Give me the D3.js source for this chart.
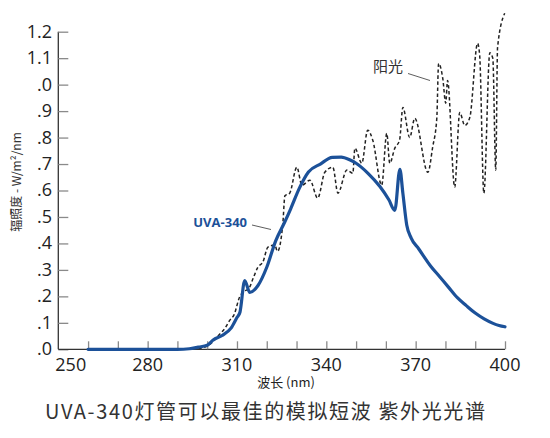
<!DOCTYPE html>
<html>
<head>
<meta charset="utf-8">
<script src="https://cdn.jsdelivr.net/npm/d3@7"></script>
<style>
  body { margin: 0; background: #fff; }
  svg { display: block; }
</style>
</head>
<body>
<svg id="chart" width="550" height="438"></svg>
<script>
// ---- data ----
const uvaNm  = [260,270,280,290,294,297,300,302,305,308,310,311,312.6,314.3,317,320,323,326,328,331,334,338,342,345,348,350,354,358,361,363,364.7,365.7,367,368.5,371,375,378,381,384,387,390,393,396,398,400];
const uvaVal = [0,0,0,0,0.002,0.008,0.015,0.035,0.052,0.08,0.12,0.14,0.26,0.215,0.24,0.31,0.41,0.48,0.53,0.61,0.67,0.70,0.725,0.726,0.715,0.703,0.665,0.615,0.565,0.525,0.68,0.59,0.47,0.42,0.38,0.315,0.275,0.235,0.195,0.165,0.137,0.115,0.098,0.09,0.085];

const sunNm  = [297,300,302,304,306,307.6,309,310.9,312,314,315.5,317,318.7,320.4,322.7,323.6,325.4,326.1,327.7,330.1,331.8,334.5,337.1,339.5,342.2,343.9,346.9,348.9,349.6,351.9,353.9,355.6,358.6,360.3,361.3,363,364.6,365.7,368,369.7,374.1,375.7,377.1,377.7,379.1,380.1,380.7,383.1,384.8,386.5,388.2,390.8,391.5,392.9,394.9,395.9,396.9,397.5,399.9];
const sunVal = [0.003,0.012,0.03,0.055,0.08,0.11,0.13,0.198,0.216,0.23,0.27,0.31,0.33,0.386,0.394,0.37,0.476,0.58,0.59,0.688,0.62,0.639,0.571,0.669,0.688,0.59,0.677,0.665,0.76,0.703,0.828,0.79,0.62,0.816,0.703,0.76,0.79,0.914,0.80,0.873,0.669,0.763,0.873,1.08,1.024,0.93,1.016,0.613,0.895,0.846,0.877,1.156,1.11,0.59,1.12,1.10,0.677,1.14,1.27];

const yTickVals   = [0,0.1,0.2,0.3,0.4,0.5,0.6,0.7,0.8,0.9,1.0,1.1,1.2];
const yTickLabels = [".0",".1",".2",".3",".4",".5",".6",".7",".8",".9",".0","1.1","1.2"];
const xMinorTicks = [260,270,280,290,300,310,320,330,340,350,360,370,380,390,400];
const xLabelTicks = [250,280,310,340,370,400];

const yAxisTitle = "辐照度 - W/m²/nm";
const xAxisTitle = "波长 (nm)";
const chartTitle = "UVA-340灯管可以最佳的模拟短波 紫外光光谱";
const uvaLabel = "UVA-340";
const sunLabel = "阳光";

// ---- layout ----
const svg = d3.select("#chart");
const x = d3.scaleLinear().domain([250, 400]).range([58.3, 505]);
const y = d3.scaleLinear().domain([0, 1.2]).range([349.3, 31.7]);
const font = "'Open Sans', 'Noto Sans', sans-serif";
const cjk = "'Noto Sans CJK SC', sans-serif";

// y axis
const gy = svg.append("g").attr("transform", `translate(${x(250)},0)`)
  .call(d3.axisRight(y).tickValues(yTickVals).tickSize(10).tickFormat(""));
gy.select(".domain").attr("stroke", "#333").attr("stroke-width", 1.3).attr("d", `M0,${y(1.2)}V${y(0)}`);
gy.selectAll(".tick line").attr("stroke", "#8a8a8a").attr("stroke-width", 1.3);
svg.append("g").selectAll("text").data(yTickVals).join("text")
  .attr("x", 52).attr("y", d => y(d)).attr("dy", "0.33em")
  .attr("text-anchor", "end").attr("font-family", font).attr("font-size", 18).attr("fill", "#222")
  .text((d, i) => yTickLabels[i]);

// x axis
const gx = svg.append("g").attr("transform", `translate(0,${y(0)})`)
  .call(d3.axisTop(x).tickValues(xMinorTicks).tickSize(8).tickFormat(""));
gx.select(".domain").attr("stroke", "#333").attr("stroke-width", 1.3).attr("d", `M${x(250)},0H${x(400)}`);
gx.selectAll(".tick line").attr("stroke", "#8a8a8a").attr("stroke-width", 1.3);
svg.append("g").selectAll("text").data(xLabelTicks).join("text")
  .attr("x", (d, i) => i === 0 ? x(d) - 3 : x(d)).attr("y", 371)
  .attr("text-anchor", (d, i) => i === 0 ? "start" : "middle")
  .attr("font-family", font).attr("font-size", 18).attr("fill", "#222")
  .text(d => d);

// axis titles
svg.append("text").attr("transform", "translate(21,182) rotate(-90)")
  .attr("text-anchor", "middle").attr("font-family", cjk).attr("font-size", 12).attr("fill", "#333")
  .text(yAxisTitle);
svg.append("text").attr("x", 286).attr("y", 387)
  .attr("text-anchor", "middle").attr("font-family", cjk).attr("font-size", 13).attr("fill", "#222")
  .text(xAxisTitle);

// lines
const line = d3.line().x(d => x(d[0])).y(d => y(d[1])).curve(d3.curveMonotoneX);
svg.append("path").datum(sunNm.map((d, i) => [d, sunVal[i]]))
  .attr("d", line).attr("fill", "none").attr("stroke", "#222")
  .attr("stroke-width", 1.5).attr("stroke-dasharray", "3.5,2.5");
svg.append("path").datum(uvaNm.map((d, i) => [d, uvaVal[i]]))
  .attr("d", line).attr("fill", "none").attr("stroke", "#1c5199")
  .attr("stroke-width", 3.2).attr("stroke-linejoin", "round").attr("stroke-linecap", "round");

// annotations
svg.append("text").attr("x", 247).attr("y", 227).attr("text-anchor", "end")
  .attr("font-family", font).attr("font-size", 13).attr("font-weight", "bold").attr("fill", "#1c5199")
  .text(uvaLabel);
svg.append("line").attr("x1", 252).attr("y1", 225).attr("x2", 271).attr("y2", 229.5)
  .attr("stroke", "#333").attr("stroke-width", 0.8);
svg.append("text").attr("x", 373).attr("y", 72)
  .attr("font-family", cjk).attr("font-size", 15).attr("fill", "#333")
  .text(sunLabel);
svg.append("line").attr("x1", 408).attr("y1", 73.5).attr("x2", 430).attr("y2", 80.5)
  .attr("stroke", "#333").attr("stroke-width", 0.8);

// title
svg.append("text").attr("x", 45).attr("y", 419)
  .attr("font-family", cjk).attr("font-size", 20).attr("fill", "#333")
  .attr("textLength", 440).attr("lengthAdjust", "spacing")
  .text(chartTitle);
</script>
</body>
</html>
